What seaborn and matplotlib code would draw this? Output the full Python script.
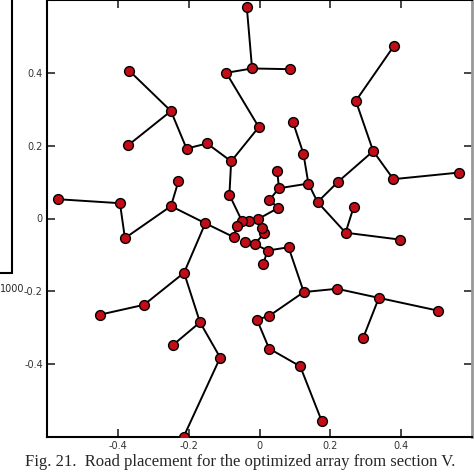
import matplotlib.pyplot as plt
from matplotlib.lines import Line2D
import seaborn as sns
import pandas as pd

sns.set_theme(style="ticks")
plt.rcParams['font.family'] = ['DejaVu Sans']

# node positions (km, roughly)
node_x = [-0.036, -0.021, 0.086, -0.094, -0.002, -0.080, -0.085, -0.250, -0.206, -0.148,
          -0.368, -0.371, 0.094, 0.124, 0.379, 0.272, 0.321, 0.378, 0.562, 0.222,
          0.164, 0.266, 0.243, 0.397, 0.219, 0.337, 0.504, 0.293, 0.176, 0.115,
          0.027, -0.007, 0.028, 0.125, 0.082, 0.023, 0.010, -0.014, -0.040, 0.014,
          0.006, -0.003, -0.031, -0.050, -0.064, -0.073, -0.153, 0.053, 0.028, 0.055,
          0.050, 0.138, -0.570, -0.394, -0.380, -0.250, -0.229, -0.213, -0.326, -0.450,
          -0.168, -0.245, -0.111, -0.214]
node_y = [0.582, 0.412, 0.410, 0.400, 0.251, 0.157, 0.065, 0.295, 0.192, 0.206,
          0.406, 0.201, 0.266, 0.178, 0.473, 0.323, 0.185, 0.108, 0.126, 0.101,
          0.045, 0.032, -0.039, -0.058, -0.193, -0.218, -0.253, -0.327, -0.557, -0.406,
          -0.357, -0.278, -0.267, -0.202, -0.079, -0.088, -0.126, -0.070, -0.064, -0.040,
          -0.026, -0.001, -0.006, -0.006, -0.021, -0.051, -0.013, 0.029, 0.051, 0.083,
          0.131, 0.096, 0.053, 0.042, -0.054, 0.034, 0.102, -0.149, -0.237, -0.264,
          -0.285, -0.348, -0.382, -0.599]

# road segments as (node, node), 1-based like the reading order above
road_from = [1, 2, 2, 4, 5, 6, 9, 8, 8, 8, 6, 7, 44, 43, 44, 45, 46, 47, 56, 56, 55, 54,
             47, 58, 59, 58, 61, 61, 63, 42, 48, 49, 50, 50, 52, 14, 52, 21, 20, 17, 16,
             17, 18, 21, 23, 23, 42, 41, 40, 38, 38, 36, 36, 35, 34, 25, 26, 26, 34, 33,
             32, 31, 30]
road_to = [2, 3, 4, 5, 6, 10, 10, 9, 11, 12, 7, 44, 43, 42, 45, 46, 47, 56, 57, 55, 54,
           53, 58, 59, 60, 61, 62, 63, 64, 48, 49, 50, 51, 52, 14, 13, 21, 20, 17, 16,
           15, 18, 19, 23, 22, 24, 41, 40, 38, 39, 36, 37, 35, 34, 25, 26, 27, 28, 33,
           32, 31, 30, 29]

tick_vals = [-0.4, -0.2, 0, 0.2, 0.4]
tick_text = ['-0.4', '-0.2', '0', '0.2', '0.4']

nodes = pd.DataFrame({'x': node_x, 'y': node_y})

fig = plt.figure(figsize=(4.74, 4.75), dpi=100)
ax = fig.add_axes([47 / 474, 38 / 475, 425 / 474, 437 / 475])

for a, b in zip(road_from, road_to):
    ax.plot([node_x[a - 1], node_x[b - 1]], [node_y[a - 1], node_y[b - 1]],
            color='black', lw=1.4, zorder=1)
sns.scatterplot(data=nodes, x='x', y='y', ax=ax, s=50, color='#c00d18',
                edgecolor='black', linewidth=1.0, zorder=3)

ax.set_xlim(-0.6, 0.6); ax.set_ylim(-0.6, 0.6)
ax.set_xticks(tick_vals); ax.set_yticks(tick_vals)
ax.set_xticklabels(tick_text); ax.set_yticklabels(tick_text)
ax.set_xlabel(''); ax.set_ylabel('')
ax.tick_params(direction='in', length=6, width=1.2, top=True, right=True,
               labelsize=7, labelcolor='#333333', pad=3)
for side in ['left', 'bottom', 'top']:
    ax.spines[side].set_linewidth(1.5); ax.spines[side].set_color('black')
ax.spines['right'].set_color('#999999'); ax.spines['right'].set_linewidth(2)

# piece of the neighbouring figure at the left edge
fig.add_artist(Line2D([12 / 474, 12 / 474], [1, 1 - 273 / 475], color='black', lw=1.5))
fig.add_artist(Line2D([0, 12 / 474], [1 - 273 / 475, 1 - 273 / 475], color='black', lw=1.5))
fig.text(0, 1 - 289 / 475, '1000', fontsize=7, va='center', ha='left')

fig.text(25 / 474, 1 - 462 / 475,
         'Fig. 21.  Road placement for the optimized array from section V.',
         family=['Liberation Serif'], fontsize=12, va='center', ha='left')

fig.savefig('out.png', dpi=100)
